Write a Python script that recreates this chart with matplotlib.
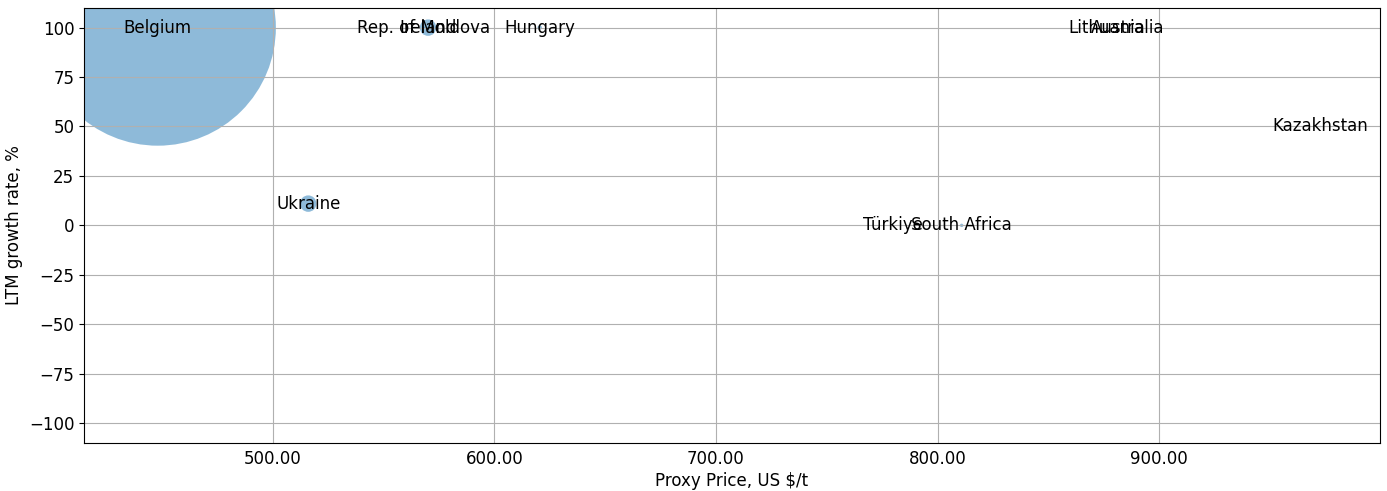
import matplotlib
matplotlib.use('Agg')
import matplotlib.pyplot as plt
from matplotlib.ticker import FormatStrFormatter

# data
countries = ['Belgium', 'Rep. of Moldova', 'Ireland', 'Hungary', 'Lithuania',
             'Australia', 'Kazakhstan', 'Türkiye', 'South Africa', 'Ukraine']
proxy_price = [448.0, 568.0, 570.0, 620.4, 876.5, 886.0, 972.8, 780.0, 810.9, 515.9]
growth_rate = [100.0, 100.0, 100.0, 100.0, 100.0, 100.0, 50.0, 0.0, 0.0, 11.0]
bubble_size = [28900, 3, 140, 10, 1, 2, 1, 1, 6, 140]

fig, ax = plt.subplots(figsize=(13.87, 4.91), dpi=100)
fig.subplots_adjust(left=0.0606, right=0.995, top=0.984, bottom=0.098)

ax.scatter(proxy_price, growth_rate, s=bubble_size, alpha=0.5, color='tab:blue',
           linewidths=0)
for name, x, y in zip(countries, proxy_price, growth_rate):
    ax.text(x, y, name, ha='center', va='center', fontsize=12)

ax.set_xlim(414.7, 999.8)
ax.set_ylim(-110, 110)
ax.xaxis.set_major_formatter(FormatStrFormatter('%.2f'))
ax.tick_params(labelsize=12)
ax.tick_params(axis='x', length=0, pad=5)
ax.set_xlabel('Proxy Price, US $/t', fontsize=12, labelpad=3)
ax.set_ylabel('LTM growth rate, %', fontsize=12)
ax.grid(True)

fig.savefig('out.png', dpi=100)
